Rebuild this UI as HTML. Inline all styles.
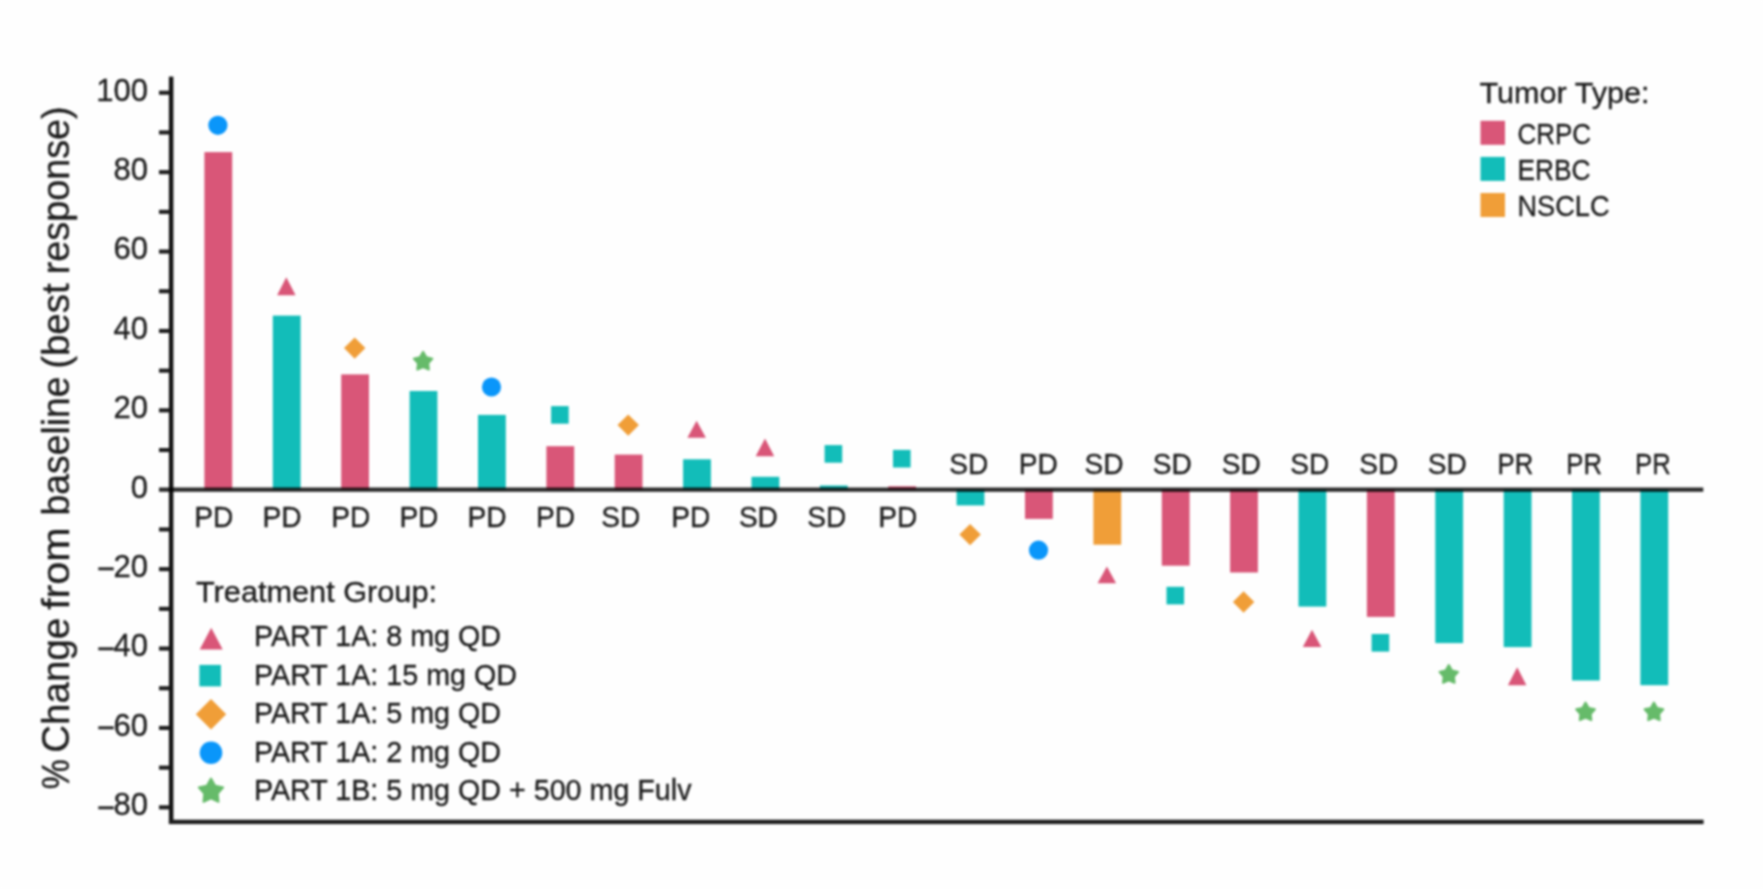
<!DOCTYPE html>
<html lang="en"><head><meta charset="utf-8"><title>Best response waterfall</title>
<style>html,body{margin:0;padding:0;background:#fefefe}body{width:1763px;height:889px;overflow:hidden}svg{display:block;filter:blur(0.8px)}text{stroke:#1c1c1c;stroke-width:0.35px}</style>
</head><body>
<svg width="1763" height="889" viewBox="0 0 1763 889" font-family="'Liberation Sans', sans-serif" fill="#1c1c1c">
<rect width="1763" height="889" fill="#fefefe"/>
<g id="bars">
<rect x="204.4" y="152.1" width="27.8" height="337.4" fill="#D95678"/>
<rect x="272.8" y="315.6" width="27.8" height="173.9" fill="#12BDB9"/>
<rect x="341.2" y="374.4" width="27.8" height="115.1" fill="#D95678"/>
<rect x="409.6" y="391.0" width="27.8" height="98.5" fill="#12BDB9"/>
<rect x="478.0" y="414.9" width="27.8" height="74.6" fill="#12BDB9"/>
<rect x="546.4" y="446.2" width="27.8" height="43.3" fill="#D95678"/>
<rect x="614.7" y="454.6" width="27.8" height="34.9" fill="#D95678"/>
<rect x="683.1" y="459.3" width="27.8" height="30.2" fill="#12BDB9"/>
<rect x="751.5" y="476.8" width="27.8" height="12.7" fill="#12BDB9"/>
<rect x="819.9" y="485.5" width="27.8" height="4.0" fill="#12BDB9"/>
<rect x="888.2" y="486.3" width="27.8" height="3.2" fill="#D95678"/>
<rect x="956.6" y="489.5" width="27.8" height="15.9" fill="#12BDB9"/>
<rect x="1025.0" y="489.5" width="27.8" height="29.4" fill="#D95678"/>
<rect x="1093.4" y="489.5" width="27.8" height="55.2" fill="#F09E38"/>
<rect x="1161.8" y="489.5" width="27.8" height="76.2" fill="#D95678"/>
<rect x="1230.1" y="489.5" width="27.8" height="83.0" fill="#D95678"/>
<rect x="1298.5" y="489.5" width="27.8" height="117.1" fill="#12BDB9"/>
<rect x="1366.9" y="489.5" width="27.8" height="127.4" fill="#D95678"/>
<rect x="1435.3" y="489.5" width="27.8" height="153.6" fill="#12BDB9"/>
<rect x="1503.7" y="489.5" width="27.8" height="157.6" fill="#12BDB9"/>
<rect x="1572.0" y="489.5" width="27.8" height="191.0" fill="#12BDB9"/>
<rect x="1640.4" y="489.5" width="27.8" height="195.7" fill="#12BDB9"/>
</g>
<g id="markers">
<circle cx="217.9" cy="125.3" r="9.6" fill="#0A96FA"/>
<polygon points="286.3,277.3 295.6,295.3 277.1,295.3" fill="#D95678"/>
<polygon points="354.7,337.4 365.4,348.1 354.7,358.8 344.0,348.1" fill="#F09E38"/>
<polygon points="423.1,351.8 426.3,357.2 432.4,358.6 428.2,363.3 428.9,369.5 423.1,367.0 417.3,369.5 418.0,363.3 413.8,358.6 419.9,357.2" fill="#66BB6A" stroke="#66BB6A" stroke-width="2" stroke-linejoin="round"/>
<circle cx="491.5" cy="387.0" r="9.6" fill="#0A96FA"/>
<rect x="551.1" y="406.1" width="17.6" height="17.6" fill="#12BDB9"/>
<polygon points="628.2,414.4 638.9,425.1 628.2,435.8 617.5,425.1" fill="#F09E38"/>
<polygon points="696.6,420.8 705.9,437.7 687.4,437.7" fill="#D95678"/>
<polygon points="765.0,438.5 774.2,456.2 755.7,456.2" fill="#D95678"/>
<rect x="824.6" y="445.1" width="17.6" height="17.6" fill="#12BDB9"/>
<rect x="893.0" y="449.9" width="17.6" height="17.6" fill="#12BDB9"/>
<polygon points="970.1,523.9 980.8,534.6 970.1,545.3 959.4,534.6" fill="#F09E38"/>
<circle cx="1038.5" cy="550.2" r="9.6" fill="#0A96FA"/>
<polygon points="1106.9,566.5 1116.1,583.3 1097.6,583.3" fill="#D95678"/>
<rect x="1166.5" y="586.8" width="17.6" height="17.6" fill="#12BDB9"/>
<polygon points="1243.6,591.3 1254.3,602.0 1243.6,612.7 1232.9,602.0" fill="#F09E38"/>
<polygon points="1312.0,629.8 1321.3,646.9 1302.8,646.9" fill="#D95678"/>
<rect x="1371.6" y="634.0" width="17.6" height="17.6" fill="#12BDB9"/>
<polygon points="1448.8,665.1 1452.0,670.5 1458.1,671.9 1453.9,676.6 1454.6,682.8 1448.8,680.3 1443.0,682.8 1443.7,676.6 1439.5,671.9 1445.6,670.5" fill="#66BB6A" stroke="#66BB6A" stroke-width="2" stroke-linejoin="round"/>
<polygon points="1517.2,667.2 1526.4,685.2 1507.9,685.2" fill="#D95678"/>
<polygon points="1585.5,702.5 1588.7,707.9 1594.9,709.3 1590.7,714.0 1591.3,720.2 1585.5,717.7 1579.8,720.2 1580.4,714.0 1576.2,709.3 1582.4,707.9" fill="#66BB6A" stroke="#66BB6A" stroke-width="2" stroke-linejoin="round"/>
<polygon points="1653.9,702.5 1657.1,707.9 1663.3,709.3 1659.1,714.0 1659.7,720.2 1653.9,717.7 1648.2,720.2 1648.8,714.0 1644.6,709.3 1650.8,707.9" fill="#66BB6A" stroke="#66BB6A" stroke-width="2" stroke-linejoin="round"/>
</g>
<g id="axes" fill="#141414">
<rect x="168.9" y="76.6" width="4.5" height="747.4" />
<rect x="168.9" y="819.7" width="1534.7" height="4.4" fill="#1e1e1e"/>
<rect x="159" y="487.5" width="1544.3" height="4.3" fill="#2c2c2c" style="mix-blend-mode:multiply"/>
<rect x="159" y="805.3" width="11" height="4.1" fill="#1e1e1e"/>
<rect x="159" y="765.6" width="11" height="4.1" fill="#1e1e1e"/>
<rect x="159" y="725.9" width="11" height="4.1" fill="#1e1e1e"/>
<rect x="159" y="686.2" width="11" height="4.1" fill="#1e1e1e"/>
<rect x="159" y="646.5" width="11" height="4.1" fill="#1e1e1e"/>
<rect x="159" y="606.8" width="11" height="4.1" fill="#1e1e1e"/>
<rect x="159" y="567.1" width="11" height="4.1" fill="#1e1e1e"/>
<rect x="159" y="527.4" width="11" height="4.1" fill="#1e1e1e"/>
<rect x="159" y="448.0" width="11" height="4.1" fill="#1e1e1e"/>
<rect x="159" y="408.3" width="11" height="4.1" fill="#1e1e1e"/>
<rect x="159" y="368.6" width="11" height="4.1" fill="#1e1e1e"/>
<rect x="159" y="328.9" width="11" height="4.1" fill="#1e1e1e"/>
<rect x="159" y="289.2" width="11" height="4.1" fill="#1e1e1e"/>
<rect x="159" y="249.5" width="11" height="4.1" fill="#1e1e1e"/>
<rect x="159" y="209.8" width="11" height="4.1" fill="#1e1e1e"/>
<rect x="159" y="170.1" width="11" height="4.1" fill="#1e1e1e"/>
<rect x="159" y="130.4" width="11" height="4.1" fill="#1e1e1e"/>
<rect x="159" y="90.7" width="11" height="4.1" fill="#1e1e1e"/>
</g>
<g id="ticklabels" font-size="31" text-anchor="end">
<text x="147.9" y="817.5">−<tspan dx="-1.5" dy="-2.4">80</tspan></text>
<text x="147.9" y="738.1">−<tspan dx="-1.5" dy="-2.4">60</tspan></text>
<text x="147.9" y="658.7">−<tspan dx="-1.5" dy="-2.4">40</tspan></text>
<text x="147.9" y="579.3">−<tspan dx="-1.5" dy="-2.4">20</tspan></text>
<text x="147.9" y="497.5">0</text>
<text x="147.9" y="418.1">20</text>
<text x="147.9" y="338.7">40</text>
<text x="147.9" y="259.3">60</text>
<text x="147.9" y="179.9">80</text>
<text x="147.9" y="100.5">100</text>
</g>
<g id="resp" font-size="30.3" text-anchor="middle">
<text x="213.8" y="526.8" textLength="39.0" lengthAdjust="spacingAndGlyphs">PD</text>
<text x="282.1" y="526.8" textLength="39.0" lengthAdjust="spacingAndGlyphs">PD</text>
<text x="350.7" y="526.8" textLength="39.0" lengthAdjust="spacingAndGlyphs">PD</text>
<text x="418.9" y="526.8" textLength="39.0" lengthAdjust="spacingAndGlyphs">PD</text>
<text x="487.0" y="526.8" textLength="39.0" lengthAdjust="spacingAndGlyphs">PD</text>
<text x="555.6" y="526.8" textLength="39.0" lengthAdjust="spacingAndGlyphs">PD</text>
<text x="620.8" y="526.8" textLength="39.0" lengthAdjust="spacingAndGlyphs">SD</text>
<text x="690.8" y="526.8" textLength="39.0" lengthAdjust="spacingAndGlyphs">PD</text>
<text x="758.4" y="526.8" textLength="39.0" lengthAdjust="spacingAndGlyphs">SD</text>
<text x="826.8" y="526.8" textLength="39.0" lengthAdjust="spacingAndGlyphs">SD</text>
<text x="897.7" y="526.8" textLength="39.0" lengthAdjust="spacingAndGlyphs">PD</text>
<text x="968.7" y="473.9" textLength="39.0" lengthAdjust="spacingAndGlyphs">SD</text>
<text x="1038.2" y="473.9" textLength="39.0" lengthAdjust="spacingAndGlyphs">PD</text>
<text x="1104.0" y="473.9" textLength="39.0" lengthAdjust="spacingAndGlyphs">SD</text>
<text x="1172.3" y="473.9" textLength="39.0" lengthAdjust="spacingAndGlyphs">SD</text>
<text x="1241.2" y="473.9" textLength="39.0" lengthAdjust="spacingAndGlyphs">SD</text>
<text x="1309.8" y="473.9" textLength="39.0" lengthAdjust="spacingAndGlyphs">SD</text>
<text x="1378.7" y="473.9" textLength="39.0" lengthAdjust="spacingAndGlyphs">SD</text>
<text x="1447.3" y="473.9" textLength="39.0" lengthAdjust="spacingAndGlyphs">SD</text>
<text x="1515.4" y="473.9" textLength="35.7" lengthAdjust="spacingAndGlyphs">PR</text>
<text x="1584.1" y="473.9" textLength="35.7" lengthAdjust="spacingAndGlyphs">PR</text>
<text x="1652.9" y="473.9" textLength="35.7" lengthAdjust="spacingAndGlyphs">PR</text>
</g>
<g id="ylabel" transform="translate(69.4,787.4) rotate(-90)" font-size="39.5" text-anchor="middle">
<text x="13.2" y="0" textLength="30.0" lengthAdjust="spacingAndGlyphs">%</text>
<text x="102.2" y="0" textLength="135.0" lengthAdjust="spacingAndGlyphs">Change</text>
<text x="218.8" y="0" textLength="82.5" lengthAdjust="spacingAndGlyphs">from</text>
<text x="341.5" y="0" textLength="139.0" lengthAdjust="spacingAndGlyphs">baseline</text>
<text x="461.3" y="0" textLength="85.5" lengthAdjust="spacingAndGlyphs">(best</text>
<text x="597.1" y="0" textLength="168.0" lengthAdjust="spacingAndGlyphs">response)</text>
</g>
<g id="tumor" font-size="30.3">
<text x="1479.5" y="102.5" textLength="170" lengthAdjust="spacingAndGlyphs">Tumor Type:</text>
<rect x="1480.5" y="120.8" width="24.5" height="24" fill="#D95678"/>
<text x="1517.5" y="143.9" textLength="73.5" lengthAdjust="spacingAndGlyphs">CRPC</text>
<rect x="1480.5" y="156.9" width="24.5" height="24" fill="#12BDB9"/>
<text x="1517.5" y="180.0" textLength="73" lengthAdjust="spacingAndGlyphs">ERBC</text>
<rect x="1480.5" y="193.0" width="24.5" height="24" fill="#F09E38"/>
<text x="1517.5" y="216.1" textLength="92" lengthAdjust="spacingAndGlyphs">NSCLC</text>
</g>
<g id="treat" font-size="30.3">
<text x="196" y="601.5" textLength="241" lengthAdjust="spacingAndGlyphs">Treatment Group:</text>
<text x="254" y="645.9" textLength="247" lengthAdjust="spacingAndGlyphs">PART 1A: 8 mg QD</text>
<text x="254" y="684.7" textLength="263" lengthAdjust="spacingAndGlyphs">PART 1A: 15 mg QD</text>
<text x="254" y="722.7" textLength="247" lengthAdjust="spacingAndGlyphs">PART 1A: 5 mg QD</text>
<text x="254" y="761.5" textLength="247" lengthAdjust="spacingAndGlyphs">PART 1A: 2 mg QD</text>
<text x="254" y="799.5" textLength="437.5" lengthAdjust="spacingAndGlyphs">PART 1B: 5 mg QD + 500 mg Fulv</text>
<polygon points="211.2,627.7 222.7,649.4 199.7,649.4" fill="#D95678"/>
<rect x="199.4" y="664.9" width="21.5" height="21.5" fill="#12BDB9"/>
<polygon points="211.0,699.1 226.2,714.3 211.0,729.5 195.8,714.3" fill="#F09E38"/>
<circle cx="211.0" cy="752.8" r="11.3" fill="#0A96FA"/>
<polygon points="211.0,778.6 215.1,785.7 223.2,787.4 217.7,793.6 218.5,801.8 211.0,798.4 203.5,801.8 204.3,793.6 198.8,787.4 206.9,785.7" fill="#66BB6A" stroke="#66BB6A" stroke-width="2" stroke-linejoin="round"/>
</g>
</svg>
</body></html>
